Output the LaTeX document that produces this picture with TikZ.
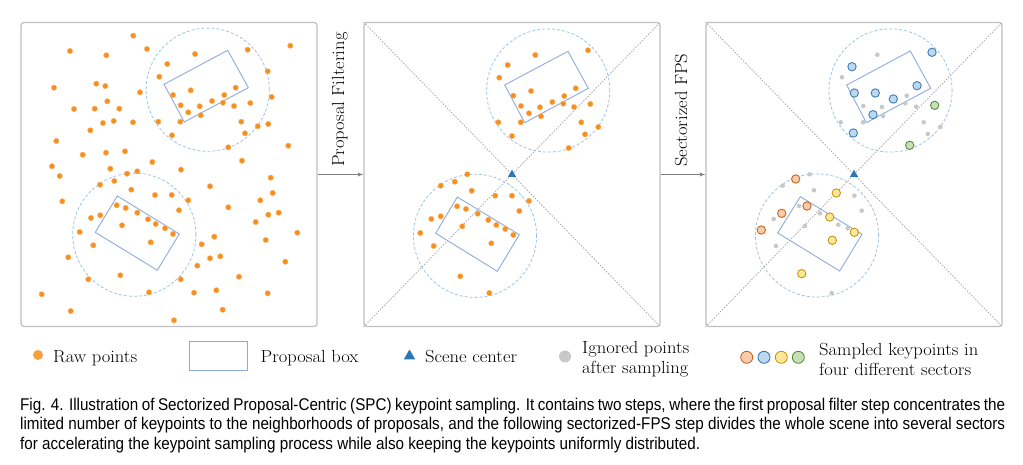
\documentclass[tikz,border=0pt]{standalone}
\usepackage{fontspec}
\newfontfamily\capfont{Liberation Sans}[FakeStretch=0.895]
\newfontfamily\lgdfont{Latin Modern Roman}[FakeStretch=1.06]
\usepackage{tikz}
\usetikzlibrary{arrows,shapes.geometric,positioning}

\definecolor{framegray}{RGB}{191,191,191}
\definecolor{arrgray}{RGB}{128,128,128}
\definecolor{rawor}{RGB}{247,142,30}
\definecolor{rawedge}{RGB}{250,178,100}
\definecolor{boxblue}{RGB}{142,170,219}
\definecolor{circblue}{RGB}{157,195,230}
\definecolor{ctrblue}{RGB}{46,117,182}
\definecolor{igray}{RGB}{200,200,200}
\definecolor{diaggray}{RGB}{160,160,160}
\definecolor{kpor}{RGB}{248,203,173}   \definecolor{kporD}{RGB}{197,90,17}
\definecolor{kpbl}{RGB}{189,215,238}   \definecolor{kpblD}{RGB}{46,117,182}
\definecolor{kpye}{RGB}{255,230,153}   \definecolor{kpyeD}{RGB}{191,144,0}
\definecolor{kpgr}{RGB}{197,224,180}   \definecolor{kpgrD}{RGB}{84,130,53}

\tikzstyle{flow} = [draw, color=arrgray, line width=1pt, -latex']
\tikzset{
  panel/.style={draw=framegray, line width=1.2pt, rounded corners=3pt, minimum width=296pt, minimum height=304pt, inner sep=0pt},
  rawpt/.style={fill=rawor, draw=rawedge, line width=0.4pt},
  igpt/.style={fill=igray},
  propbox/.style={draw=boxblue, line width=0.9pt},
  propcirc/.style={draw=circblue, line width=0.8pt, dash pattern=on 3pt off 2pt},
  sector/.style={draw=diaggray, line width=0.7pt, dash pattern=on 1.5pt off 1.5pt},
  scenectr/.style={regular polygon, regular polygon sides=3, fill=ctrblue, inner sep=0pt, minimum size=9.5pt},
  kp/.style={fill=#1, draw=#1D, line width=0.8pt},
  lgd/.style={font=\lgdfont\fontsize{17.5}{20.5}\selectfont, inner sep=0pt},
  capline/.style={font=\capfont\fontsize{17}{19.5}\selectfont, inner sep=0pt, anchor=base west}
}

\begin{document}
\begin{tikzpicture}[x=1pt,y=-1pt]
\useasboundingbox (0,0) rectangle (1023,465);

% three panels
\node (raw)  [panel] at (169,174.5) {};
\node (filt) [panel] at (512,174.5) {};
\node (fps)  [panel] at (854,174.5) {};

\draw[flow] (raw.east) -- (filt.west);
\draw[flow] (filt.east) -- (fps.west);
\node[lgd, rotate=90, anchor=base west] (pflab) at (344,167) {Proposal Filtering};
\node[lgd, rotate=90, anchor=base west] (fpslab) at (687,167) {Sectorized FPS};

% sectors
\draw[sector] (filt.north west) -- (filt.south east);
\draw[sector] (filt.south west) -- (filt.north east);
\draw[sector] (fps.north west) -- (fps.south east);
\draw[sector] (fps.south west) -- (fps.north east);

%%% panel 1: raw points
\draw[propcirc] (207.7,89.7) circle (61.6pt);
\draw[propcirc] (134.3,234.7) circle (61.6pt);
\draw[propbox] (164,84.3) -- (227.7,50.3) -- (248.3,87.7) -- (184.3,122) -- cycle;
\draw[propbox] (117.3,196) -- (179.3,234) -- (157.3,270.3) -- (95.3,232.3) -- cycle;
\foreach \p in {(133.3,35.7),(70,51),(106.3,55.3),(147,49),(195,54),(247.7,49.7),(290.3,45.7),
  (167.3,64),(267.7,71.3),(54,87.7),(96.3,83.7),(105.3,86),(159.3,76.7),(140,92.3),(190.7,90.3),
  (173,95),(235.7,87.7),(224.3,95),(271.7,97),(107.3,101.3),(74,109),(94.7,108.7),(119.3,108.7),
  (180.7,105.3),(199.7,106.3),(212,101),(223,102.7),(234,106),(250.3,103),(188.3,112.3),
  (200.7,115.3),(103,123),(113.7,121),(133,122.3),(158.3,121.7),(180.3,121.7),(241.3,121.7),
  (268.3,124),(257.7,126.3),(90.3,130.3),(172,135.3),(245,133.3),(56.3,141),(288.3,145.7),
  (228.3,147.3),(82.7,154.7),(106,152.7),(125,151.3),(152.3,162),(242,160.7),(52,166.3),
  (59.7,176),(110.3,168.7),(127,173.7),(137.3,171.3),(181,169.7),(270.7,177.7),(100,184.7),
  (114.3,181),(131.3,189.7),(210,186.3),(272.7,193),(155,195),(171.7,195),(188.3,200.3),
  (62.3,201.3),(260.3,200.3),(116.7,205.3),(125.7,208),(228.3,207.3),(179,210.3),(137.3,212.7),
  (268.3,214.7),(278.7,212.7),(91,218),(100.3,215.3),(148,219.3),(155.7,224),(255.7,222),
  (122,225.3),(165,228.3),(173,234),(297.3,232.7),(79.7,232),(265.7,240),(150.7,242.3),
  (214.3,236.7),(201.7,244.3),(93.3,245.3),(68.3,257.3),(210,258.3),(220.3,256.3),(285.3,261.7),
  (197.3,265.7),(120.3,275.3),(239,276.7),(88.3,279.3),(180.7,279.3),(149,292.3),(194,292.7),
  (216.3,290.3),(267.7,293.3),(41.7,294.3),(70.7,311),(222.7,309.7),(174,320.3)}
  \draw[rawpt] \p circle (2.7pt);

%%% panel 2: proposal filtering
\draw[propcirc] (548.2,90.5) circle (61.6pt);
\draw[propcirc] (475,235.8) circle (61.6pt);
\draw[propbox] (504.7,85) -- (568,51.3) -- (588.3,88.3) -- (524.7,122.7) -- cycle;
\draw[propbox] (457.3,197) -- (519.3,234.7) -- (497.3,271.3) -- (435.7,233.3) -- cycle;
\foreach \p in {(535.3,55),(588,50.3),(507.7,65),(499.3,77.7),(531,91),(513.3,95.7),(575.7,88.3),
  (564.3,96),(521,106),(540,107.3),(552.3,102),(563.3,103.7),(574,107),(590.3,104),(529,113.3),
  (541,116.3),(498.3,122.3),(520.7,122.3),(581.3,122.3),(598.3,127),(585,134.3),(512,136),
  (568.7,148),
  (467.3,174.3),(440.7,185.7),(454.7,181.7),(471.7,190.7),(495.3,195.7),(512,195.7),(529,201),
  (457,206.3),(466,209),(519.3,211),(477.7,213.7),(431.3,219),(440.7,216.3),(488.3,220),
  (496.3,225),(462.3,226.3),(505.3,229),(513.3,235),(420.3,233),(491.3,243.3),(433.7,246),
  (460.3,276.3),(489.3,293)}
  \draw[rawpt] \p circle (2.7pt);
\node[scenectr] (ctr1) at (filt.center) {};

%%% panel 3: sectorized FPS
\draw[propcirc] (890.5,90.5) circle (61.6pt);
\draw[propcirc] (817,235.5) circle (61.6pt);
\draw[propbox] (846.7,85) -- (910.3,51) -- (930.7,88.3) -- (866.3,122.7) -- cycle;
\draw[propbox] (800.3,196.7) -- (862,234.3) -- (839.7,271) -- (777.7,233) -- cycle;
\foreach \p in {(877.3,54.7),(842,77.3),(906.7,95.7),(863.3,106),(882,107),(905.3,103.3),
  (916.3,106.7),(840.7,122.3),(863,122.3),(883,116),(923.7,122.3),(940.3,127),(927.7,134),
  (809.7,174.3),(782.7,185.7),(814,190.3),(854.3,195.7),(799,206),(861.7,210.7),(773.7,219),
  (820,213.3),(805,226),(838.3,224.7),(847.7,228.3),(776,246),(831.7,293)}
  \fill[igpt] \p circle (2.3pt);
\foreach \p in {(852,66.7),(932,52.3),(854.3,93),(875.3,93),(893.3,99),(917,85.7),(873,114.7),(853.3,133)}
  \draw[kp=kpbl] \p circle (4.2pt);
\foreach \p in {(934.7,105.3),(909.7,145.3)}
  \draw[kp=kpgr] \p circle (4.2pt);
\foreach \p in {(795.7,179),(781.7,213.3),(807,206),(761.3,230)}
  \draw[kp=kpor] \p circle (4.2pt);
\foreach \p in {(836.3,193),(829.7,217),(854.3,232.3),(832.3,240.3),(801.7,273.7)}
  \draw[kp=kpye] \p circle (4.2pt);
\node[scenectr] (ctr2) at (fps.center) {};

%%% legend
\fill[rawor!85!white] (38,355) circle (5pt);
\node[lgd, anchor=base west] (lraw) at (53,362) {Raw points};
\node[propbox, minimum width=58pt, minimum height=29pt, inner sep=0pt] (lbox) at (218,356) {};
\node[lgd, anchor=base west] (lboxt) at (260.5,362) {Proposal box};
\node[scenectr, minimum size=13pt] (lctr) at (409.5,356) {};
\node[lgd, anchor=base west] (lctrt) at (425,362) {Scene center};
\fill[igray] (565,356.5) circle (6pt);
\node[lgd, anchor=base west, align=left] (ligt) at (582,373.5) {Ignored points\\after sampling};
\draw[kp=kpor] (746.7,357.3) circle (6pt);
\draw[kp=kpbl] (764,357.3) circle (6pt);
\draw[kp=kpye] (781.3,357.3) circle (6pt);
\draw[kp=kpgr] (798.3,357.3) circle (6pt);
\node[lgd, anchor=base west, align=left] (lkpt) at (819,375.5) {Sampled keypoints in\\four different sectors};

%%% caption
\node[capline] (cap1) at (20,410) {\makebox[985pt][s]{Fig. 4. Illustration of Sectorized Proposal-Centric (SPC) keypoint sampling. It contains two steps, where the first proposal filter step concentrates the}};
\node[capline] (cap2) at (20,429.5) {\makebox[985pt][s]{limited number of keypoints to the neighborhoods of proposals, and the following sectorized-FPS step divides the whole scene into several sectors}};
\node[capline] (cap3) at (20,449) {for accelerating the keypoint sampling process while also keeping the keypoints uniformly distributed.};
\end{tikzpicture}
\end{document}
